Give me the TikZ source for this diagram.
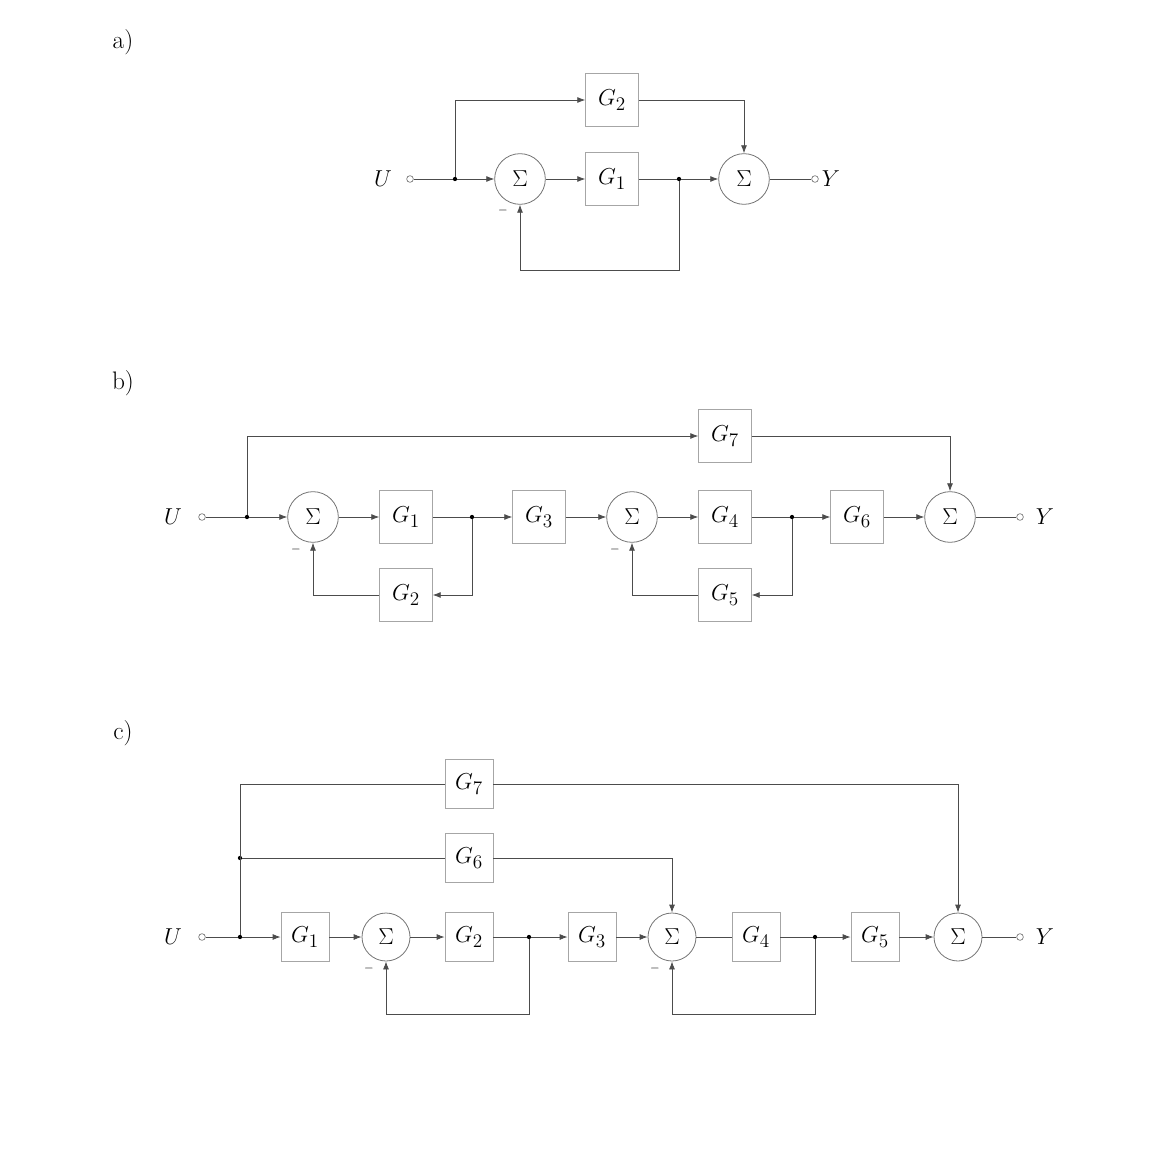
\documentclass[tikz,border=0pt]{standalone}
\usetikzlibrary{arrows.meta}
\begin{document}
\begin{tikzpicture}[x=0.75pt,y=-0.75pt,
  blk/.style={draw=black!35,line width=0.6pt,minimum width=39.5pt,minimum height=39.5pt,inner sep=0pt,font=\fontsize{19}{22}\selectfont},
  cblk/.style={blk,minimum width=36pt,minimum height=37pt},
  sumn/.style={circle,draw=black!55,line width=0.6pt,minimum size=38pt,inner sep=0pt,font=\fontsize{18}{20}\selectfont},
  csum/.style={sumn,minimum size=36pt},
  term/.style={circle,draw=black!55,line width=0.5pt,minimum size=5pt,inner sep=0pt},
  dotn/.style={circle,fill=black,minimum size=3.2pt,inner sep=0pt},
  lbl/.style={font=\fontsize{19}{22}\selectfont},
  ln/.style={draw=black!70,line width=0.6pt},
  ar/.style={ln,-{Latex[length=6pt,width=4.5pt]}},
  minus/.style={font=\small}]
\useasboundingbox (0,0) rectangle (1170,1162);
\node[lbl] at (123,42) {a)};
\node[lbl] at (123,383) {b)};
\node[lbl] at (123,733) {c)};
% ---- a
\node[term] (aU) at (410,179) {};
\node[lbl] at (383,179) {$U$};
\node[dotn] (ad1) at (455,179) {};
\node[sumn] (aS1) at (520,179) {$\Sigma$};
\node[blk] (aG1) at (612,179) {$G_1$};
\node[blk] (aG2) at (612,100) {$G_2$};
\node[dotn] (ad2) at (679,179) {};
\node[sumn] (aS2) at (744,179) {$\Sigma$};
\node[term] (aY) at (815,179) {};
\node[lbl] at (831,179) {$Y$};
\node[minus] at (503,211) {$-$};
\draw[ln] (aU) -- (ad1);
\draw[ar] (ad1) -- (aS1);
\draw[ar] (ad1) |- (aG2);
\draw[ar] (aS1) -- (aG1);
\draw[ln] (aG1) -- (ad2);
\draw[ar] (ad2) -- (aS2);
\draw[ar] (aG2) -| (aS2);
\draw[ln] (aS2) -- (aY);
\coordinate (af) at (679,270);
\draw[ar] (ad2) -- (af) -| (aS1);
% ---- b
\node[term] (bU) at (202,517) {};
\node[lbl] at (173,517) {$U$};
\node[dotn] (bd0) at (247,517) {};
\node[sumn] (bS1) at (313,517) {$\Sigma$};
\node[blk] (bG1) at (406,517) {$G_1$};
\node[dotn] (bd1) at (472,517) {};
\node[blk] (bG3) at (539,517) {$G_3$};
\node[sumn] (bS2) at (632,517) {$\Sigma$};
\node[blk] (bG4) at (725,517) {$G_4$};
\node[dotn] (bd2) at (792,517) {};
\node[blk] (bG6) at (857,517) {$G_6$};
\node[sumn] (bS3) at (950,517) {$\Sigma$};
\node[term] (bY) at (1020,517) {};
\node[lbl] at (1045,517) {$Y$};
\node[blk] (bG7) at (725,436) {$G_7$};
\node[blk] (bG2) at (406,595) {$G_2$};
\node[blk] (bG5) at (725,595) {$G_5$};
\node[minus] at (296,549) {$-$};
\node[minus] at (615,549) {$-$};
\draw[ln] (bU) -- (bd0);
\draw[ar] (bd0) -- (bS1);
\draw[ar] (bd0) |- (bG7);
\draw[ar] (bG7) -| (bS3);
\draw[ar] (bS1) -- (bG1);
\draw[ln] (bG1) -- (bd1);
\draw[ar] (bd1) -- (bG3);
\draw[ar] (bd1) |- (bG2);
\draw[ar] (bG2) -| (bS1);
\draw[ar] (bG3) -- (bS2);
\draw[ar] (bS2) -- (bG4);
\draw[ln] (bG4) -- (bd2);
\draw[ar] (bd2) -- (bG6);
\draw[ar] (bd2) |- (bG5);
\draw[ar] (bG5) -| (bS2);
\draw[ar] (bG6) -- (bS3);
\draw[ln] (bS3) -- (bY);
% ---- c
\node[term] (cU) at (202,937) {};
\node[lbl] at (173,937) {$U$};
\node[dotn] (cd0) at (240,937) {};
\node[dotn] (cd6) at (240,858) {};
\node[cblk] (cG7) at (469,784) {$G_7$};
\node[cblk] (cG6) at (469,858) {$G_6$};
\node[cblk] (cG1) at (305,937) {$G_1$};
\node[csum] (cS1) at (386,937) {$\Sigma$};
\node[cblk] (cG2) at (469,937) {$G_2$};
\node[dotn] (cd1) at (529,937) {};
\node[cblk] (cG3) at (592,937) {$G_3$};
\node[csum] (cS2) at (672,937) {$\Sigma$};
\node[cblk] (cG4) at (756,937) {$G_4$};
\node[dotn] (cd2) at (815,937) {};
\node[cblk] (cG5) at (875,937) {$G_5$};
\node[csum] (cS3) at (958,937) {$\Sigma$};
\node[term] (cY) at (1020,937) {};
\node[lbl] at (1045,937) {$Y$};
\node[minus] at (369,968) {$-$};
\node[minus] at (655,968) {$-$};
\coordinate (ct) at (240,784);
\draw[ln] (cU) -- (cd0);
\draw[ln] (cd0) -- (ct) -- (cG7);
\draw[ar] (cG7) -| (cS3);
\draw[ln] (cd6) -- (cG6);
\draw[ar] (cG6) -| (cS2);
\draw[ar] (cd0) -- (cG1);
\draw[ar] (cG1) -- (cS1);
\draw[ar] (cS1) -- (cG2);
\draw[ln] (cG2) -- (cd1);
\draw[ar] (cd1) -- (cG3);
\coordinate (cf1) at (529,1014);
\draw[ar] (cd1) -- (cf1) -| (cS1);
\draw[ar] (cG3) -- (cS2);
\draw[ln] (cS2) -- (cG4);
\draw[ln] (cG4) -- (cd2);
\draw[ar] (cd2) -- (cG5);
\coordinate (cf2) at (815,1014);
\draw[ar] (cd2) -- (cf2) -| (cS2);
\draw[ar] (cG5) -- (cS3);
\draw[ln] (cS3) -- (cY);
\end{tikzpicture}
\end{document}
